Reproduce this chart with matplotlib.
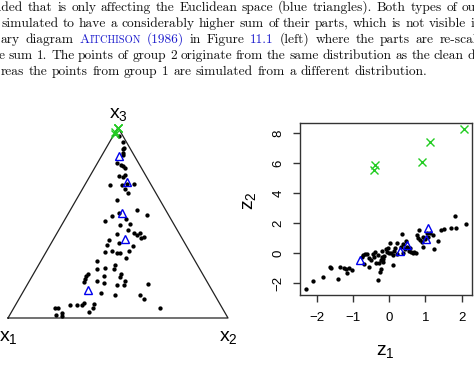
import numpy as np
import matplotlib.pyplot as plt
from matplotlib.transforms import IdentityTransform

plt.rcParams['font.family'] = ['Liberation Sans', 'DejaVu Sans']
plt.rcParams['mathtext.default'] = 'regular'

# log-ratio coordinates
clean_z1 = [-2.31, -2.13, -1.85, -1.65, -1.63, -1.44, -1.37, -1.26, -1.2, -1.17, -1.13, -1.05,
            -0.77, -0.72, -0.68, -0.63, -0.7, -0.58, -0.56, -0.51, -0.46, -0.43, -0.40, -0.37,
            -0.33, -0.32, -0.28, -0.26, -0.24, -0.22, -0.21, -0.2, -0.19, -0.17, -0.15, -0.1,
            -0.07, -0.03, 0.0, 0.02, 0.05, 0.09, 0.11, 0.13, 0.16, 0.2, 0.22, 0.31, 0.34, 0.37,
            0.39, 0.44, 0.46, 0.5, 0.53, 0.56, 0.59, 0.65, 0.69, 0.74, 0.76, 0.78, 0.83, 0.85,
            0.9, 0.93, 0.94, 0.99, 1.04, 1.08, 1.13, 1.22, 1.24, 1.34, 1.44, 1.5, 1.7, 1.82,
            1.85, 2.13]
clean_z2 = [-2.38, -1.84, -1.56, -0.89, -0.95, -1.71, -0.93, -1.0, -1.04, -1.33, -0.96, -1.13,
            -0.22, -0.13, -0.07, -0.04, -0.71, -0.33, -0.89, -0.44, -0.04, -0.27, 0.11, -0.62,
            -0.13, -1.78, -0.67, -1.22, -1.07, -0.44, -0.22, 0.18, -0.56, -0.38, -0.16, 0.27,
            0.11, 0.33, 0.04, 0.71, 0.0, -0.13, -0.78, 0.18, 0.33, 0.67, -0.04, 0.44, 1.27, 0.0,
            0.62, 0.27, 0.84, 0.44, 0.18, 0.33, 0.11, 0.04, 0.11, 0.04, 1.22, 1.0, 1.56, 0.89,
            0.78, 0.44, 1.11, 0.93, 1.38, 1.11, 1.33, 1.22, 0.29, 0.82, 1.56, 1.6, 1.71, 2.47,
            1.71, 1.93]
euclid_z1 = [-0.81, 0.28, 0.48, 1.02, 1.06]
euclid_z2 = [-0.47, 0.18, 0.58, 0.96, 1.67]
sum_z1 = [-0.4, -0.43, 0.9, 1.13, 2.08]
sum_z2 = [5.89, 5.56, 6.11, 7.44, 8.27]

xticks = [-2, -1, 0, 1, 2]
xticklabels = ['\u22122', '\u22121', '0', '1', '2']
yticks = [-2, 0, 2, 4, 6, 8]
yticklabels = ['\u22122', '0', '2', '4', '6', '8']

FS = 9.67
text_lines = [
    [("added that is only affecting the Euclidean space (blue triangles). Both types of outliers", 'k', FS)],
    [("simulated to have a considerably higher sum of their parts, which is not visible in the", 'k', FS)],
    [("ary diagram ", 'k', FS), ("A", 'link', FS), ("ITCHISON", 'link', 7.4), (" (1986)", 'link', FS),
     (" in Figure ", 'k', FS), ("11.1", 'link', FS), (" (left) where the parts are re-scaled", 'k', FS)],
    [("e sum 1. The points of group 2 originate from the same distribution as the clean data", 'k', FS)],
    [("reas the points from group 1 are simulated from a different distribution.", 'k', FS)],
]
line_x0 = [-12, 1.5, 0.5, -1, 0.5]
line_base = [11, 27, 43, 59, 75]
# justified lines: word whose right end sits at a given x
line_anchor = [('of', 457), ('visible', 466), ('are', 434), ('clean', 464), None]


def to_ternary(z1, z2):
    z1 = np.asarray(z1)
    z2 = np.asarray(z2)
    l1 = -np.sqrt(2 / 3) * z1
    l2 = z1 / np.sqrt(6) - z2 / np.sqrt(2)
    l3 = z1 / np.sqrt(6) + z2 / np.sqrt(2)
    e = np.exp(np.vstack([l1, l2, l3]))
    x = e / e.sum(axis=0)
    return x[1] + x[2] / 2, x[2] * np.sqrt(3) / 2


W, H = 474, 377
fig = plt.figure(figsize=(W / 100, H / 100), dpi=100)
renderer = fig.canvas.get_renderer()


def text_width(s, size):
    t1 = fig.text(0, 0, s + '|', fontsize=size, family='cmr10', transform=IdentityTransform())
    t2 = fig.text(0, 0, '|', fontsize=size, family='cmr10', transform=IdentityTransform())
    w = t1.get_window_extent(renderer).width - t2.get_window_extent(renderer).width
    t1.remove()
    t2.remove()
    return w


for parts, x0, b, anchor in zip(text_lines, line_x0, line_base, line_anchor):
    tokens = []
    for s, c, size in parts:
        for i, p in enumerate(s.split(' ')):
            if i > 0:
                tokens.append((None, c, size))
            if p:
                tokens.append((p, c, size))
    widths = [text_width(' ' if p is None else p, size) for p, c, size in tokens]
    factor = 1.0
    if anchor is not None:
        word, xend = anchor
        k = max(i for i, t in enumerate(tokens) if t[0] == word)
        wsum = sum(w for t, w in zip(tokens[:k + 1], widths) if t[0] is not None)
        ssum = sum(w for t, w in zip(tokens[:k + 1], widths) if t[0] is None)
        factor = (xend - x0 - wsum) / ssum
    x = x0
    for (p, c, size), w in zip(tokens, widths):
        if p is None:
            x += w * factor
            continue
        col = '#1a1acc' if c == 'link' else '#111111'
        fig.text(x, H - b, p, fontsize=size, family='cmr10', color=col,
                 va='baseline', ha='left', transform=IdentityTransform())
        x += w

# ternary diagram (left)
ax1 = fig.add_axes([0, 0, 240 / W, 267 / H])
s = 220.0
ax1.set_xlim(-8 / s, 232 / s)
ax1.set_ylim(-59 / s, 208 / s)
ax1.axis('off')
ax1.plot([0, 1, 0.5, 0], [0, 0, np.sqrt(3) / 2, 0], color='#222222', lw=0.9)
tx, ty = to_ternary(clean_z1, clean_z2)
ax1.plot(tx, ty, 'o', color='black', ms=3.1, mew=0)
tx, ty = to_ternary(euclid_z1, euclid_z2)
ax1.plot(tx, ty, '^', mfc='none', mec='#0000ee', ms=6, mew=1)
tx, ty = to_ternary(sum_z1, sum_z2)
ax1.plot(tx, ty, 'x', color='#22cc22', ms=5.5, mew=1)
ax1.text(0, -0.09, '$x_1$', fontsize=14, ha='center', va='center')
ax1.text(1, -0.09, '$x_2$', fontsize=14, ha='center', va='center')
ax1.text(0.5, 0.925, '$x_3$', fontsize=14, ha='center', va='center')

# log-ratio scatter (right)
ax2 = fig.add_axes([300 / W, 82 / H, 172 / W, 172 / H])
ax2.plot(clean_z1, clean_z2, 'o', color='black', ms=3.1, mew=0)
ax2.plot(euclid_z1, euclid_z2, '^', mfc='none', mec='#0000ee', ms=6, mew=1)
ax2.plot(sum_z1, sum_z2, 'x', color='#22cc22', ms=5.5, mew=1)
ax2.set_xlim(-2.48, 2.29)
ax2.set_ylim(-2.78, 8.69)
ax2.set_xticks(xticks)
ax2.set_xticklabels(xticklabels)
ax2.set_yticks(yticks)
ax2.set_yticklabels(yticklabels, rotation=90, va='center')
ax2.tick_params(direction='out', length=5, width=1, labelsize=9.5, color='#333333')
ax2.tick_params(axis='x', pad=7)
ax2.tick_params(axis='y', pad=6)
for sp in ax2.spines.values():
    sp.set_linewidth(1)
    sp.set_color('#333333')
fig.text(385 / W, 1 - 352 / H, '$z_1$', fontsize=14, ha='center', va='center')
fig.text(249 / W, 1 - 201 / H, '$z_2$', fontsize=14, ha='center', va='center', rotation=90)

fig.savefig('out.png', dpi=100)
